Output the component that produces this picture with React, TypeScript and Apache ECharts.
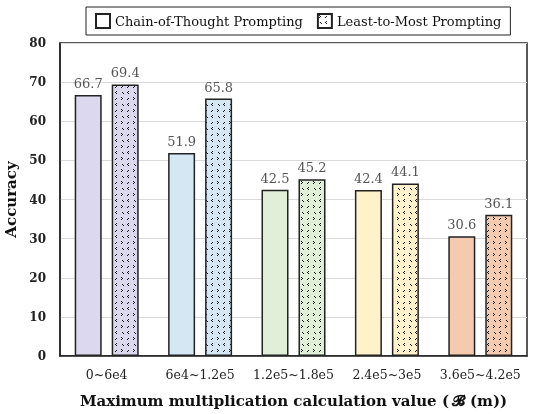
import * as echarts from "echarts";
import { useEffect, useRef } from "react";

const ranges = ["0~6e4", "6e4~1.2e5", "1.2e5~1.8e5", "2.4e5~3e5", "3.6e5~4.2e5"];
const cotAcc = [66.7, 51.9, 42.5, 42.4, 30.6];
const ltmAcc = [69.4, 65.8, 45.2, 44.1, 36.1];
const fills = ["#dcd8ee", "#d6e7f4", "#e1eed8", "#fff1c9", "#f4cbae"];

const FONT = "DejaVu Serif";

// small dotted tile used for the least-to-most bars
function dotted(bg: string) {
	const c = document.createElement("canvas");
	c.width = 12;
	c.height = 12;
	const ctx = c.getContext("2d")!;
	ctx.fillStyle = bg;
	ctx.fillRect(0, 0, 12, 12);
	ctx.fillStyle = "#111";
	ctx.fillRect(1, 1, 1, 1);
	ctx.fillRect(2, 2, 1, 1);
	ctx.fillRect(1, 3, 1, 1);
	ctx.fillRect(8, 2, 1, 1);
	ctx.fillRect(7, 3, 1, 1);
	ctx.fillRect(8, 7, 1, 1);
	ctx.fillRect(7, 8, 1, 1);
	ctx.fillRect(8, 9, 1, 1);
	ctx.fillRect(2, 8, 1, 1);
	ctx.fillRect(3, 9, 1, 1);
	return { image: c, repeat: "repeat" as const };
}

export default function App() {
	const ref = useRef<HTMLDivElement>(null);
	useEffect(() => {
		if (!ref.current) return;
		const chart = echarts.init(ref.current, null, { renderer: "svg" });
		const label = {
			show: true,
			position: "top",
			distance: 5,
			color: "#555",
			fontFamily: FONT,
			fontSize: 13,
		};
		const nameStyle = { fontFamily: FONT, fontSize: 15, fontWeight: "bold", color: "#111" };
		chart.setOption({
			animation: false,
			textStyle: { fontFamily: FONT },
			legend: {
				top: 7,
				left: 86,
				width: 419,
				padding: [6, 9],
				borderColor: "#222",
				borderWidth: 1,
				itemWidth: 14,
				itemHeight: 14,
				itemGap: 14,
				icon: "rect",
				textStyle: { fontFamily: FONT, fontSize: 13, color: "#111" },
				data: ["Chain-of-Thought Prompting", "Least-to-Most Prompting"],
			},
			grid: {
				left: 60,
				right: 10,
				top: 43,
				bottom: 58,
				outerBoundsMode: "none",
				show: true,
				borderColor: "#222",
				borderWidth: 1.5,
			},
			xAxis: {
				type: "category",
				data: ranges,
				axisTick: { show: false },
				axisLine: { lineStyle: { color: "#222", width: 1.5 } },
				axisLabel: { color: "#222", fontSize: 12.5, margin: 12, fontFamily: FONT, interval: 0 },
				name: "{a|Maximum multiplication calculation value (}{b|𝓑}{a|(m))}",
				nameLocation: "middle",
				nameGap: 37,
				nameTextStyle: {
					...nameStyle,
					rich: {
						a: nameStyle,
						b: { fontFamily: "DejaVu Sans", fontSize: 15, fontWeight: "bold", color: "#111", padding: [0, 5, 0, 3] },
					},
				},
			},
			yAxis: {
				type: "value",
				min: 0,
				max: 80,
				interval: 10,
				axisLine: { show: true, lineStyle: { color: "#222", width: 1.5 } },
				splitLine: { lineStyle: { color: "#d9d9d9" } },
				axisLabel: { color: "#222", fontSize: 12, fontWeight: "bold", margin: 14, fontFamily: FONT },
				name: "Accuracy",
				nameLocation: "middle",
				nameGap: 40,
				nameTextStyle: nameStyle,
			},
			series: [
				{
					name: "Chain-of-Thought Prompting",
					type: "bar",
					barWidth: 27,
					barGap: "37%",
					itemStyle: { color: "#fff", borderColor: "#222", borderWidth: 1.5 },
					label,
					data: cotAcc.map((v, i) => ({ value: v, itemStyle: { color: fills[i] } })),
				},
				{
					name: "Least-to-Most Prompting",
					type: "bar",
					barWidth: 27,
					itemStyle: { color: dotted("#fff"), borderColor: "#222", borderWidth: 1.5 },
					label,
					data: ltmAcc.map((v, i) => ({ value: v, itemStyle: { color: dotted(fills[i]) } })),
				},
			],
		});
		return () => chart.dispose();
	}, []);
	return <div ref={ref} style={{ position: "fixed", left: 0, top: 0, width: 537, height: 414 }} />;
}
